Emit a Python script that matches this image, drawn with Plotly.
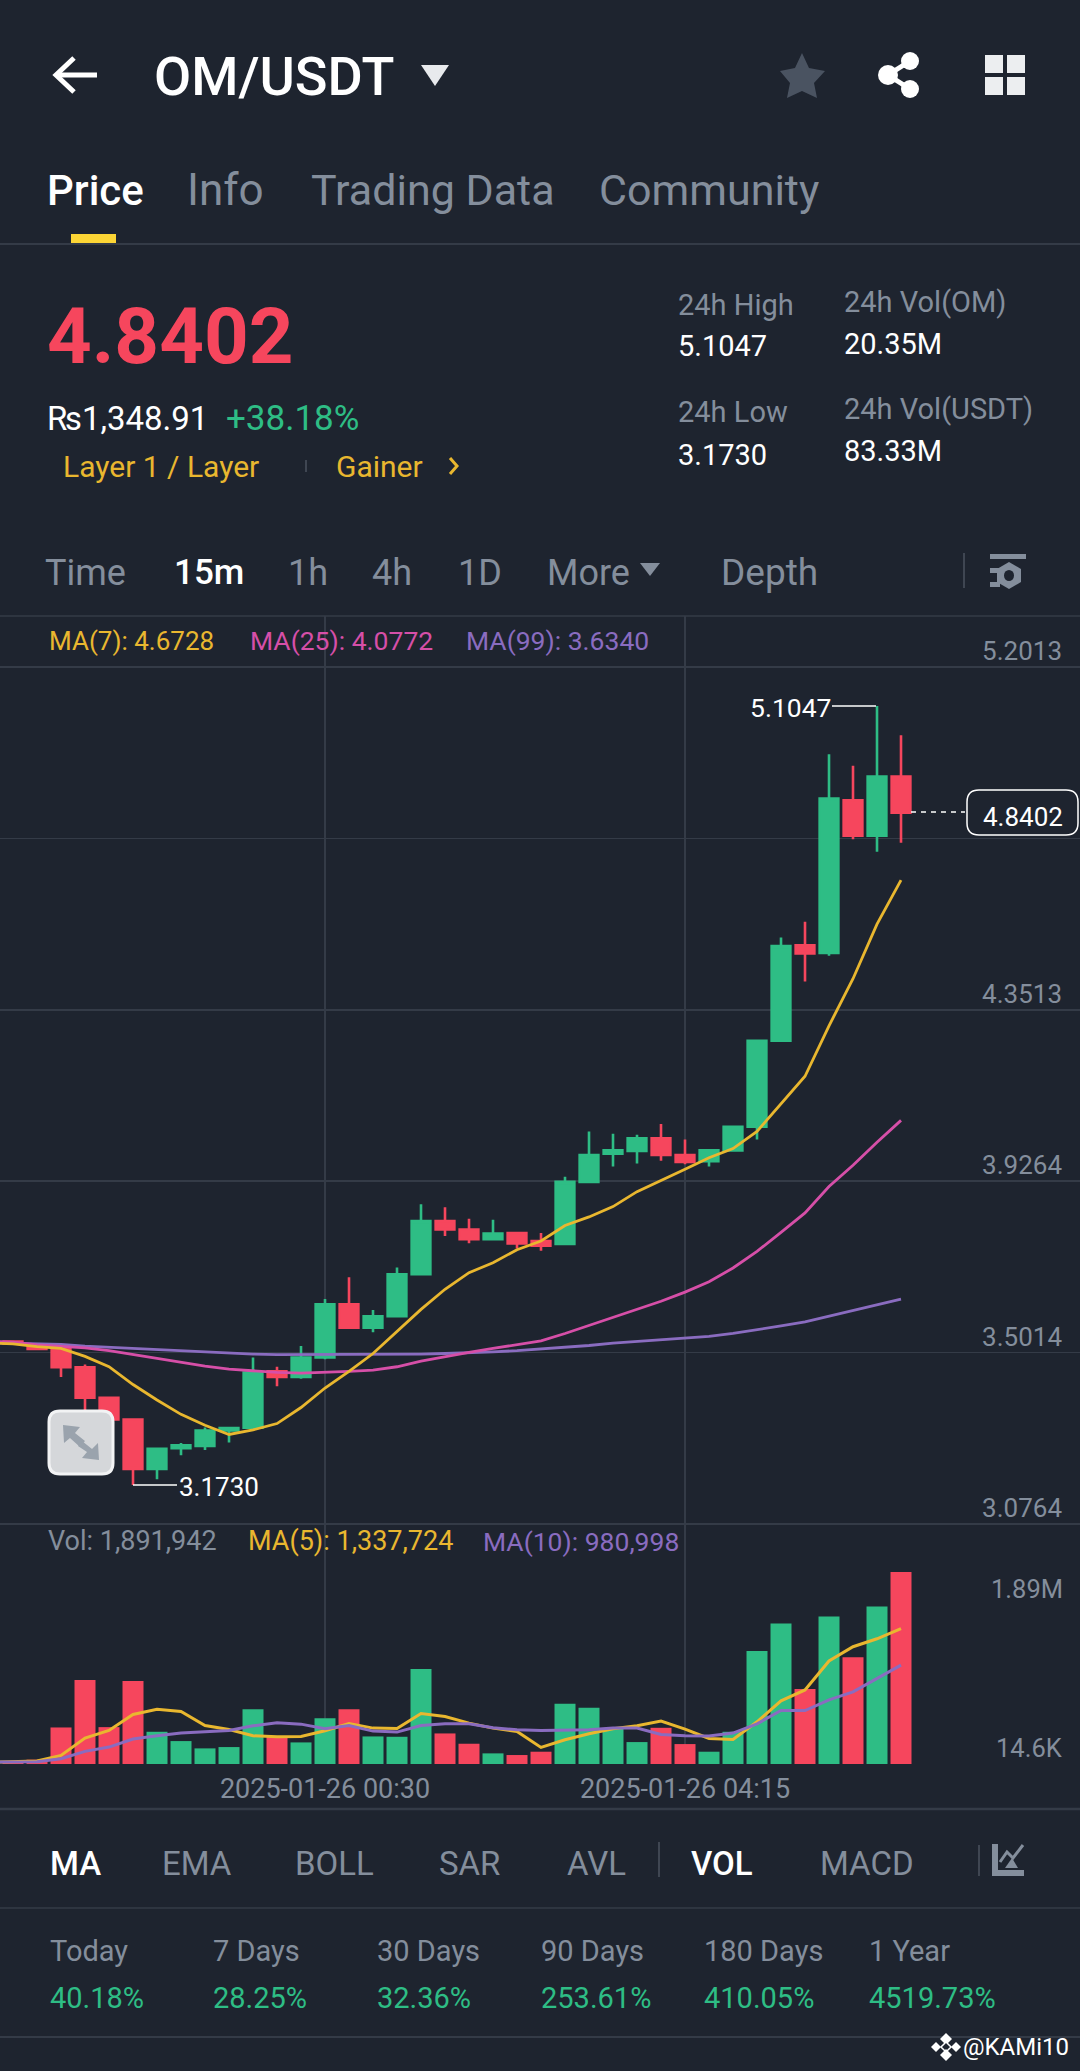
import plotly.graph_objects as go

W, H = 1080, 2071
BG = "#1e242f"
GRID = "#343b47"
GRAY = "#848e9c"
GREEN = "#2ebd85"
RED = "#f6465d"
YELLOW = "#e9b72f"
MAGENTA = "#d64fa8"
PURPLE = "#8a6cc0"
WHITE = "#ffffff"
FONT = "Roboto"

# 15m candles
times = [
    "2025-01-25 21:00", "2025-01-25 21:15", "2025-01-25 21:30", "2025-01-25 21:45",
    "2025-01-25 22:00", "2025-01-25 22:15", "2025-01-25 22:30", "2025-01-25 22:45",
    "2025-01-25 23:00", "2025-01-25 23:15", "2025-01-25 23:30", "2025-01-25 23:45",
    "2025-01-26 00:00", "2025-01-26 00:15", "2025-01-26 00:30", "2025-01-26 00:45",
    "2025-01-26 01:00", "2025-01-26 01:15", "2025-01-26 01:30", "2025-01-26 01:45",
    "2025-01-26 02:00", "2025-01-26 02:15", "2025-01-26 02:30", "2025-01-26 02:45",
    "2025-01-26 03:00", "2025-01-26 03:15", "2025-01-26 03:30", "2025-01-26 03:45",
    "2025-01-26 04:00", "2025-01-26 04:15", "2025-01-26 04:30", "2025-01-26 04:45",
    "2025-01-26 05:00", "2025-01-26 05:15", "2025-01-26 05:30", "2025-01-26 05:45",
    "2025-01-26 06:00", "2025-01-26 06:15", "2025-01-26 06:30",
]
opens = [
    3.5275, 3.5289, 3.5176, 3.5104, 3.4649, 3.3895, 3.3354, 3.2130, 3.2642, 3.2698,
    3.3083, 3.3154, 3.4549, 3.4407, 3.4891, 3.6214, 3.5631, 3.5915, 3.6955, 3.8278,
    3.8065, 3.7823, 3.7979, 3.7780, 3.7709, 3.9246, 3.9943, 4.0015, 4.0328, 3.9915,
    3.9758, 4.0029, 4.0612, 4.2747, 4.5110, 4.4925, 4.8711, 4.7829, 4.9295,
]
highs = [
    3.5304, 3.5318, 3.5204, 3.5118, 3.4720, 3.3923, 3.3382, 3.2656, 3.2770, 3.3154,
    3.3154, 3.4891, 3.4663, 3.5176, 3.6343, 3.6883, 3.6072, 3.7126, 3.8691, 3.8620,
    3.8335, 3.8307, 3.8008, 3.7979, 3.9374, 4.0499, 4.0441, 4.0413, 4.0684, 4.0299,
    4.0057, 4.0641, 4.2747, 4.5309, 4.5694, 4.9850, 4.9565, 5.1047, 5.0319,
]
lows = [
    3.5247, 3.5204, 3.5076, 3.4407, 3.3539, 3.2969, 3.1730, 3.1873, 3.2471, 3.2599,
    3.2784, 3.3154, 3.4179, 3.4364, 3.4848, 3.5602, 3.5517, 3.5915, 3.6926, 3.7908,
    3.7723, 3.7823, 3.7595, 3.7538, 3.7680, 3.9246, 3.9630, 3.9702, 3.9773, 3.9687,
    3.9630, 4.0000, 4.0300, 4.2733, 4.4213, 4.4854, 4.7743, 4.7430, 4.7658,
]
closes = [
    3.5261, 3.5232, 3.5104, 3.4649, 3.3895, 3.3354, 3.2130, 3.2628, 3.2713, 3.3083,
    3.3140, 3.4521, 3.4407, 3.4891, 3.6214, 3.5631, 3.5915, 3.6955, 3.8278, 3.8065,
    3.7823, 3.7965, 3.7723, 3.7666, 3.9246, 3.9915, 4.0029, 4.0328, 3.9915, 3.9744,
    4.0029, 4.0612, 4.2747, 4.5096, 4.4911, 4.8754, 4.7829, 4.9295, 4.8402,
]
ma7 = [
    3.5247, 3.5232, 3.5161, 3.5118, 3.4919, 3.4663, 3.4222, 3.3838, 3.3482, 3.3211,
    3.2984, 3.3098, 3.3254, 3.3652, 3.4136, 3.4549, 3.4991, 3.5531, 3.6086, 3.6584,
    3.6997, 3.7240, 3.7566, 3.7780, 3.8164, 3.8378, 3.8634, 3.9004, 3.9274, 3.9559,
    3.9844, 4.0072, 4.0498, 4.1182, 4.1865, 4.3117, 4.4285, 4.5637, 4.6728,
]
ma25 = [
    3.5289, 3.5275, 3.5204, 3.5161, 3.5133, 3.5062, 3.4962, 3.4877, 3.4777, 3.4677,
    3.4606, 3.4563, 3.4521, 3.4506, 3.4521, 3.4549, 3.4578, 3.4663, 3.4805, 3.4919,
    3.5019, 3.5118, 3.5218, 3.5304, 3.5488, 3.5688, 3.5887, 3.6101, 3.6286, 3.6513,
    3.6769, 3.7111, 3.7524, 3.7994, 3.8478, 3.9133, 3.9659, 4.0228, 4.0772,
]
ma99 = [
    3.5261, 3.5247, 3.5232, 3.5218, 3.5176, 3.5147, 3.5104, 3.5076, 3.5047, 3.5019,
    3.4991, 3.4976, 3.4962, 3.4962, 3.4962, 3.4962, 3.4962, 3.4976, 3.4976, 3.4991,
    3.5005, 3.5033, 3.5062, 3.5104, 3.5133, 3.5190, 3.5247, 3.5289, 3.5332, 3.5375,
    3.5418, 3.5488, 3.5574, 3.5674, 3.5773, 3.5915, 3.6043, 3.6186, 3.6340,
]
volumes = [
    30000, 34000, 56800, 371900, 836300, 375100, 826600, 329700, 238700, 167300,
    180200, 550500, 284200, 225700, 462800, 550500, 284200, 280900, 943500, 313400,
    212700, 118500, 102300, 134800, 602500, 563500, 365400, 229000, 368600, 209500,
    134800, 329700, 1118900, 1388500, 748600, 1456700, 1057200, 1554200, 1891942,
]
vol_ma5 = [
    30840, 34088, 43832, 99048, 267944, 342648, 498552, 550520, 527784, 391368,
    352392, 290680, 280936, 284184, 339400, 410856, 365384, 362136, 508296, 479064,
    414104, 365384, 332904, 177000, 251704, 310168, 358888, 388120, 433592, 355640,
    264696, 254952, 427096, 631720, 738904, 1021480, 1161144, 1239096, 1337724,
]
vol_ma10 = [
    34088, 34088, 37336, 66568, 138024, 180248, 258200, 290680, 316664, 329656,
    342648, 388120, 417352, 404360, 358888, 391368, 336152, 326408, 391368, 407608,
    407608, 368632, 349144, 342648, 349144, 349144, 365384, 365384, 303672, 290680,
    287432, 316664, 407608, 537528, 537528, 641464, 719416, 849336, 980998,
]
price_ticks = [3.0764, 3.5014, 3.9264, 4.3513, 4.7763, 5.2013]
price_tick_text = ["3.0764", "3.5014", "3.9264", "4.3513", "", "5.2013"]
time_ticks = ["2025-01-26 00:30", "2025-01-26 04:15"]
vol_min, vol_max = 14600, 1891942


def px(x):
    return x / W


def py(y):
    return 1 - y / H


def poly(points, fill=None, color=None, width=0, closed=True):
    d = "M" + " L".join(f"{px(x):.5f},{py(y):.5f}" for x, y in points)
    if closed:
        d += " Z"
    return dict(
        type="path", xref="paper", yref="paper", path=d,
        fillcolor=fill if fill else "rgba(0,0,0,0)",
        line=dict(color=color if color else "rgba(0,0,0,0)", width=width),
    )


def hline(y, x0=0, x1=W, color=GRID, width=1.5, dash=None):
    return dict(
        type="line", xref="paper", yref="paper", x0=px(x0), x1=px(x1), y0=py(y), y1=py(y),
        line=dict(color=color, width=width, dash=dash),
    )


def vline(x, y0, y1, color=GRID, width=1.5):
    return dict(
        type="line", xref="paper", yref="paper", x0=px(x), x1=px(x), y0=py(y0), y1=py(y1),
        line=dict(color=color, width=width),
    )


def box(x0, y0, x1, y1, fill, kind="rect"):
    return dict(
        type=kind, xref="paper", yref="paper", x0=px(x0), x1=px(x1), y0=py(y0), y1=py(y1),
        fillcolor=fill, line=dict(width=0),
    )


def rounded(x0, y0, x1, y1, r, fill, color, width):
    d = (f"M{px(x0 + r):.5f},{py(y0):.5f} L{px(x1 - r):.5f},{py(y0):.5f} "
         f"Q{px(x1):.5f},{py(y0):.5f} {px(x1):.5f},{py(y0 + r):.5f} "
         f"L{px(x1):.5f},{py(y1 - r):.5f} Q{px(x1):.5f},{py(y1):.5f} {px(x1 - r):.5f},{py(y1):.5f} "
         f"L{px(x0 + r):.5f},{py(y1):.5f} Q{px(x0):.5f},{py(y1):.5f} {px(x0):.5f},{py(y1 - r):.5f} "
         f"L{px(x0):.5f},{py(y0 + r):.5f} Q{px(x0):.5f},{py(y0):.5f} {px(x0 + r):.5f},{py(y0):.5f} Z")
    return dict(type="path", xref="paper", yref="paper", path=d, fillcolor=fill,
                line=dict(color=color, width=width))


fig = go.Figure()
fig.add_trace(go.Candlestick(
    x=times, open=opens, high=highs, low=lows, close=closes,
    increasing=dict(line=dict(color=GREEN, width=2.6), fillcolor=GREEN),
    decreasing=dict(line=dict(color=RED, width=2.6), fillcolor=RED),
    whiskerwidth=0, xaxis="x", yaxis="y", showlegend=False,
))
for values, color in [(ma99, PURPLE), (ma25, MAGENTA), (ma7, YELLOW)]:
    fig.add_trace(go.Scatter(
        x=times, y=values, mode="lines", line=dict(color=color, width=2.8),
        xaxis="x", yaxis="y", showlegend=False,
    ))

bar_colors = [GREEN if c >= o else RED for o, c in zip(opens, closes)]
fig.add_trace(go.Bar(
    x=times, y=volumes, marker=dict(color=bar_colors, line=dict(width=0)),
    xaxis="x2", yaxis="y2", showlegend=False,
))
for values, color in [(vol_ma5, YELLOW), (vol_ma10, PURPLE)]:
    fig.add_trace(go.Scatter(
        x=times, y=values, mode="lines", line=dict(color=color, width=3),
        xaxis="x2", yaxis="y2", showlegend=False,
    ))

# text, left x, centre y, size, colour, weight
labels = [
    ("OM/USDT", 154, 76, 54, WHITE, 500),
    ("Price", 47, 190, 42, WHITE, 500),
    ("Info", 187, 190, 44, GRAY, 400),
    ("Trading Data", 311, 190, 43, GRAY, 400),
    ("Community", 599, 190, 43, GRAY, 400),
    ("4.8402", 47, 337, 78, RED, 700),
    ("₨1,348.91", 47, 419, 33, WHITE, 400),
    ("+38.18%", 226, 419, 35, GREEN, 400),
    ("Layer 1 / Layer", 63, 466, 30, YELLOW, 400),
    ("Gainer", 336, 466, 30, YELLOW, 400),
    ("24h High", 678, 305, 29, GRAY, 400),
    ("5.1047", 678, 346, 29, WHITE, 400),
    ("24h Low", 678, 412, 29, GRAY, 400),
    ("3.1730", 678, 455, 29, WHITE, 400),
    ("24h Vol(OM)", 844, 302, 29, GRAY, 400),
    ("20.35M", 844, 344, 29, WHITE, 400),
    ("24h Vol(USDT)", 844, 409, 29, GRAY, 400),
    ("83.33M", 844, 451, 29, WHITE, 400),
    ("Time", 45, 573, 36, GRAY, 400),
    ("15m", 174, 573, 35, WHITE, 500),
    ("1h", 288, 573, 36, GRAY, 400),
    ("4h", 372, 573, 36, GRAY, 400),
    ("1D", 458, 573, 36, GRAY, 400),
    ("More", 547, 573, 36, GRAY, 400),
    ("Depth", 721, 573, 37, GRAY, 400),
    ("MA(7): 4.6728", 49, 641, 26, YELLOW, 400),
    ("MA(25): 4.0772", 250, 641, 26.5, MAGENTA, 400),
    ("MA(99): 3.6340", 466, 641, 26.5, PURPLE, 400),
    ("5.1047", 750, 707, 26.5, WHITE, 400),
    ("3.1730", 179, 1487, 26, WHITE, 400),
    ("4.8402", 983, 817, 26, WHITE, 400),
    ("Vol: 1,891,942", 48, 1541, 27, GRAY, 400),
    ("MA(5): 1,337,724", 248, 1541, 27, YELLOW, 400),
    ("MA(10): 980,998", 483, 1541, 26.5, PURPLE, 400),
    ("1.89M", 991, 1589, 25.5, GRAY, 400),
    ("14.6K", 996, 1748, 25.5, GRAY, 400),
    ("MA", 50, 1863, 33, WHITE, 500),
    ("EMA", 162, 1863, 33, GRAY, 400),
    ("BOLL", 295, 1863, 33, GRAY, 400),
    ("SAR", 439, 1863, 33, GRAY, 400),
    ("AVL", 567, 1863, 33, GRAY, 400),
    ("VOL", 691, 1863, 33, WHITE, 500),
    ("MACD", 820, 1863, 33, GRAY, 400),
    ("Today", 50, 1951, 29, GRAY, 400),
    ("7 Days", 213, 1951, 29, GRAY, 400),
    ("30 Days", 377, 1951, 29, GRAY, 400),
    ("90 Days", 541, 1951, 29, GRAY, 400),
    ("180 Days", 705, 1951, 29, GRAY, 400),
    ("1 Year", 869, 1951, 29, GRAY, 400),
    ("40.18%", 50, 1998, 29, GREEN, 400),
    ("28.25%", 213, 1998, 29, GREEN, 400),
    ("32.36%", 377, 1998, 29, GREEN, 400),
    ("253.61%", 541, 1998, 29, GREEN, 400),
    ("410.05%", 705, 1998, 29, GREEN, 400),
    ("4519.73%", 869, 1998, 29, GREEN, 400),
    ("@KAMi10", 964, 2047, 24, WHITE, 400),
]
annotations = [
    dict(
        text=t, x=px(x - 2.5), y=py(y), xref="paper", yref="paper", xanchor="left", yanchor="middle",
        showarrow=False, font=dict(family=FONT, size=s, color=c, weight=w),
    )
    for t, x, y, s, c, w in labels
]

shapes = [
    hline(244, width=2), hline(616), hline(1809, width=2.5), hline(1908), hline(2037, width=2),
    box(71, 234, 116, 243, "#fcd535"),
    # back arrow, dropdown, star, share, grid
    poly([(57, 75), (97, 75)], color=WHITE, width=5, closed=False),
    poly([(74, 58), (56, 75), (74, 92)], color=WHITE, width=5, closed=False),
    poly([(421, 65), (449, 65), (435, 86)], fill="#e8eaed"),
    poly([(802, 53), (809, 68), (825, 71), (814, 83), (817, 98), (802, 91),
          (787, 98), (790, 83), (780, 71), (795, 68)], fill="#4a5361"),
    poly([(910, 61), (888, 75), (910, 89)], color=WHITE, width=5, closed=False),
    box(901, 52, 919, 70, WHITE, "circle"),
    box(878, 65, 898, 85, WHITE, "circle"),
    box(901, 80, 919, 98, WHITE, "circle"),
    box(985, 55, 1003, 73, "#eceef0"), box(1007, 55, 1025, 73, "#eceef0"),
    box(985, 77, 1003, 95, "#eceef0"), box(1007, 77, 1025, 95, "#eceef0"),
    # tag separators
    vline(306, 460, 472, color="#3f4652", width=2),
    poly([(450, 458), (457, 466), (450, 474)], color=YELLOW, width=3, closed=False),
    # time frame row icons
    poly([(640, 563), (660, 563), (650, 576)], fill=GRAY),
    vline(964, 553, 588, color="#3f4652", width=2),
    box(990, 554, 1026, 559, GRAY), box(990, 568, 1000, 573, GRAY), box(990, 582, 1000, 587, GRAY),
    poly([(1009, 562), (1021, 569), (1021, 582), (1009, 589), (997, 582), (997, 569)], fill=GRAY),
    box(1004, 570, 1014, 581, BG, "circle"),
    # high and low leaders
    hline(706, 832, 876, color=WHITE, width=1.5),
    hline(1485, 133, 177, color=WHITE, width=1.5),
    # last price tag
    hline(812, 911, 965, color=WHITE, width=1.3, dash="5px,5px"),
    rounded(967, 790, 1078, 835, 12, BG, WHITE, 1.5),
    # expand button
    rounded(49, 1411, 113, 1474, 11, "#d5d7da", "#f2f3f4", 3),
    poly([(63, 1425), (80, 1427), (75, 1433), (85, 1441), (80, 1447), (70, 1438), (64, 1443)], fill="#9aa3ad"),
    poly([(99, 1460), (82, 1458), (87, 1452), (78, 1446), (82, 1441), (92, 1449), (98, 1443)], fill="#9aa3ad"),
    # indicator row icons
    vline(659, 1842, 1877, color="#3f4652", width=2),
    vline(979, 1845, 1876, color="#3f4652", width=2),
    poly([(992, 1844), (998, 1844), (998, 1870), (1024, 1870), (1024, 1876), (992, 1876)], fill=GRAY),
    poly([(1000, 1862), (1007, 1852), (1013, 1858), (1023, 1845)], color=GRAY, width=3, closed=False),
    poly([(1005, 1868), (1012, 1858), (1018, 1868)], fill=GRAY),
    # watermark logo
    poly([(946, 2033), (952, 2039), (946, 2045), (940, 2039)], fill=WHITE),
    poly([(946, 2042), (951, 2047), (946, 2052), (941, 2047)], fill=BG, color=WHITE, width=1.5),
    poly([(936, 2042), (941, 2047), (936, 2052), (931, 2047)], fill=WHITE),
    poly([(956, 2042), (961, 2047), (956, 2052), (951, 2047)], fill=WHITE),
    poly([(946, 2049), (952, 2055), (946, 2061), (940, 2055)], fill=WHITE),
]

x_range = ["2025-01-25 21:06:52", "2025-01-26 08:21:52"]
x_common = dict(
    range=x_range, showgrid=True, gridcolor=GRID, gridwidth=1.5, zeroline=False,
    tickmode="array", tickvals=time_ticks, rangeslider=dict(visible=False), ticks="",
)
fig.update_layout(
    width=W, height=H, autosize=False,
    margin=dict(l=0, r=0, t=0, b=0),
    paper_bgcolor=BG, plot_bgcolor="rgba(0,0,0,0)",
    font=dict(family=FONT, color=GRAY),
    hovermode=False, dragmode=False, showlegend=False,
    boxgap=0.22, boxgroupgap=0, bargap=0.125,
    annotations=annotations, shapes=shapes,
    xaxis=dict(domain=[0, 1], anchor="y", showticklabels=False, **x_common),
    xaxis2=dict(
        domain=[0, 1], anchor="y2", matches="x", ticklabelstandoff=6,
        ticktext=time_ticks, tickfont=dict(family=FONT, size=27, color=GRAY), **x_common,
    ),
    # price axis runs 30px into the volume pane so the lowest tick label is kept
    yaxis=dict(
        domain=[py(1554), py(616)], anchor="x", side="right", range=[3.0020, 5.3278],
        tickmode="array", tickvals=price_ticks, ticktext=price_tick_text,
        ticklabelposition="inside", ticklabelshift=-16, ticklabelstandoff=15,
        tickfont=dict(family=FONT, size=26, color=GRAY),
        showgrid=True, gridcolor=GRID, gridwidth=1.5, zeroline=False,
    ),
    yaxis2=dict(
        domain=[py(1764), py(1524)], anchor="x2", side="right", range=[vol_min, 2361300],
        tickmode="array", tickvals=[vol_min], showticklabels=False,
        showgrid=True, gridcolor=GRID, gridwidth=1.5, zeroline=False,
    ),
)

fig.write_html(
    "out.html",
    config=dict(displayModeBar=False, staticPlot=True),
    post_script="document.body.style.margin='0';document.body.style.background='" + BG + "';",
)
